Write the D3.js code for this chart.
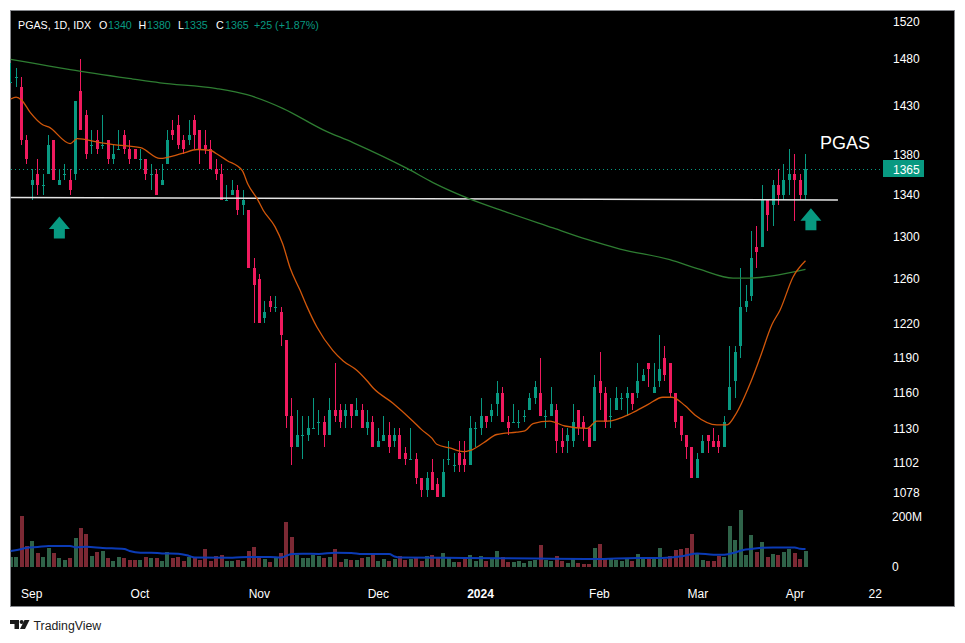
<!DOCTYPE html>
<html>
<head>
<meta charset="utf-8">
<title>PGAS daily</title>
<script src="https://cdn.jsdelivr.net/npm/d3@7/dist/d3.min.js"></script>
<style>
html,body{margin:0;padding:0;background:#fff;}
svg{display:block;font-family:"Liberation Sans",Arial,sans-serif;}
</style>
</head>
<body>
<svg id="chart" width="965" height="643"></svg>
<script>
// Daily session prices in IDR
const opens = [1455,1460,1450,1395,1350,1360,1350,1360,1395,1350,
1360,1355,1360,1445,1420,1390,1395,1390,1395,1375,
1385,1400,1385,1385,1375,1375,1360,1360,1350,1370,
1405,1410,1395,1395,1415,1405,1390,1385,1365,1360,
1335,1340,1345,1330,1325,1270,1260,1225,1240,1235,
1230,1205,1140,1115,1125,1125,1130,1135,1135,1125,
1145,1145,1140,1150,1140,1145,1130,1135,1115,1120,
1125,1120,1125,1110,1105,1105,1090,1080,1095,1085,
1075,1105,1100,1110,1105,1100,1130,1130,1140,1140,
1150,1160,1135,1135,1135,1140,1145,1155,1160,1140,
1140,1145,1120,1120,1120,1145,1135,1130,1120,1170,
1160,1140,1145,1155,1155,1160,1160,1170,1185,1160,
1170,1190,1185,1160,1140,1125,1115,1090,1110,1125,
1120,1120,1115,1145,1170,1200,1235,1245,1290,1290,
1335,1330,1350,1340,1355,1360,1355,1340];
const closes = [1455,1460,1395,1375,1355,1350,1350,1390,1355,1355,
1360,1345,1435,1405,1380,1390,1385,1390,1375,1380,
1385,1385,1375,1375,1375,1360,1360,1340,1355,1395,
1400,1390,1385,1400,1400,1385,1385,1365,1360,1335,
1335,1345,1325,1335,1270,1255,1220,1230,1235,1235,
1210,1140,1115,1125,1125,1130,1130,1135,1125,1145,
1140,1135,1145,1140,1145,1130,1135,1115,1120,1125,
1115,1125,1105,1105,1105,1090,1080,1090,1080,1075,
1095,1105,1100,1100,1100,1130,1130,1140,1135,1145,
1160,1135,1130,1135,1135,1140,1155,1165,1140,1140,
1150,1120,1115,1125,1135,1130,1130,1115,1165,1160,
1135,1140,1155,1155,1160,1150,1170,1175,1180,1165,
1180,1175,1160,1135,1125,1115,1090,1105,1120,1120,
1115,1115,1135,1165,1195,1235,1240,1280,1285,1335,
1320,1350,1340,1355,1360,1355,1340,1365];
const highs = [1475,1470,1460,1400,1365,1375,1360,1400,1395,1365,
1370,1365,1435,1480,1425,1405,1405,1420,1395,1390,
1405,1405,1395,1385,1385,1375,1370,1365,1370,1405,
1415,1420,1400,1415,1420,1405,1405,1395,1375,1370,
1350,1355,1350,1345,1325,1280,1265,1240,1245,1245,
1235,1205,1155,1145,1140,1140,1155,1145,1140,1155,
1185,1150,1150,1150,1155,1150,1145,1140,1130,1140,
1135,1130,1130,1115,1130,1110,1090,1095,1105,1090,
1105,1120,1110,1120,1120,1140,1135,1155,1140,1150,
1170,1165,1140,1150,1145,1145,1160,1170,1190,1145,
1165,1150,1130,1130,1150,1145,1140,1130,1175,1195,
1165,1155,1165,1160,1165,1160,1185,1180,1185,1185,
1210,1200,1185,1160,1140,1125,1115,1110,1125,1125,
1130,1125,1140,1200,1200,1270,1255,1305,1310,1350,
1335,1355,1365,1370,1385,1380,1360,1380];
const lows = [1455,1450,1390,1370,1335,1340,1340,1360,1355,1350,
1355,1340,1355,1405,1375,1380,1380,1385,1370,1370,
1385,1380,1370,1375,1365,1355,1345,1340,1350,1370,
1395,1385,1380,1390,1385,1370,1380,1365,1355,1335,
1335,1340,1320,1320,1270,1220,1220,1220,1230,1230,
1200,1130,1100,1115,1105,1120,1130,1125,1115,1125,
1135,1130,1130,1130,1140,1130,1125,1115,1115,1120,
1110,1115,1105,1100,1105,1085,1075,1075,1080,1075,
1075,1100,1095,1095,1095,1100,1115,1125,1130,1135,
1140,1135,1125,1135,1130,1135,1145,1150,1140,1130,
1140,1110,1110,1110,1115,1125,1120,1115,1120,1145,
1130,1130,1145,1145,1140,1145,1155,1170,1165,1160,
1165,1170,1155,1130,1120,1105,1090,1090,1110,1110,
1115,1110,1115,1145,1155,1190,1230,1240,1270,1290,
1305,1310,1330,1335,1340,1315,1335,1335];

// Traded volume per session, millions of shares
const volumes = [40,40,203,83,103,56,40,75,56,35,
27,35,115,155,131,43,59,63,35,23,
39,35,27,27,27,39,35,35,23,59,
35,39,23,39,35,27,71,23,43,47,
23,23,27,23,63,79,35,31,19,35,
55,179,119,47,35,35,47,43,35,39,
71,19,31,27,27,35,39,47,23,31,
23,31,43,27,31,39,23,43,47,35,
55,39,19,19,35,47,23,43,23,31,
63,39,19,19,23,15,23,27,87,27,
23,43,23,15,31,15,11,11,75,91,
31,31,27,23,31,23,51,31,31,35,
75,31,43,67,71,75,131,55,27,23,
23,43,39,163,107,227,47,127,59,99,
39,51,47,59,71,55,31,63];

// Moving averages, sampled at session indices
const emaSessions = [0,1,2,3.6,6,7,11,12.3,16.5,19,24,27.6,31.7,34.5,37,38,40,42.8,43.9,45.7,46.7,48.9,50.3,51.7,53.5,54.8,56.6,59.6,61.5,64,65.9,67,70.7,74.4,76,77.9,78.8,81.2,83.7,85,87.4,89.9,93.6,95.1,96.6,99.7,102.5,106.6,108.4,110.3,115,117.9,120.6,122.3,124.7,126.6,130.6,132.5,134,136.8,138.6,140.8,142.3,144.7,147];
const emaPrices = [1437,1439,1436,1423,1410,1408,1391,1396,1392,1390,1387,1376,1381,1385,1384,1381,1374,1364,1350,1335,1325,1309,1293,1270,1250,1235,1217,1196,1187,1179,1170,1164,1151,1136,1129,1122,1117,1114,1111,1112,1118,1125,1127,1128,1134,1136,1132,1130,1136,1136,1143,1150,1156,1156,1149,1141,1133,1133,1141,1168,1190,1219,1232,1262,1277];
const smaSessions = [0,4.1,11,22.6,27.6,38.1,43.7,50.4,57.8,63.3,73.3,78.1,84.4,91.8,100.3,106.6,112.7,121.9,127.5,133.6,136.7,140.9,147];
const smaPrices = [1479,1475,1468,1458,1454,1448,1441.5,1427,1405,1392,1366,1352,1337,1323,1308,1297,1288,1278,1269,1261,1261,1263,1269];
const volMaSessions = [0,2,3,5,7,11,12,14,17,21,22,24,26,28,31,33,34,41,44,48,50,52,54,57,60,63,65,70,71,72,84,97,107,108,116,119,122,124.4,127,130,132,134,135.5,137,139,141,145,146,147];
const volMaValues = [63,71,76,79,83,83,77,80,75,71,63,56,56,53,52,43,37,36,39,39,37,51,52,51,56,55,51,51,41,37,35,33,31,31,35,35,37,43,53,48,48,57,67,71,76,77,77,72,71];

// Axis labels
const priceTicks = [1520,1480,1430,1380,1340,1300,1260,1220,1190,1160,1130,1102,1078];
const volumeTicks = [200,0];
const volumeTickLabels = ["200M","0"];
const timeTicks = [3.8,23.8,45.9,67.9,86.8,108.8,127,145,159.8];
const timeTickLabels = ["Sep","Oct","Nov","Dec","2024","Feb","Mar","Apr","22"];

// Annotations
const supportSessions = [0,153];
const supportPrices = [1337.3,1335];
const arrowSessions = [9,148];
const arrowPrices = [1319,1327];
const lastClose = closes[closes.length-1];

const UP="#089981", DOWN="#f01a5e", VOL_UP="#2f6349", VOL_DOWN="#7c2934";

const svg=d3.select("#chart");
const x=d3.scaleLinear().domain([0,147]).range([10.7,805.5]);
const y=d3.scaleLog().domain([1078,1520]).range([493,22]);
const yVol=d3.scaleLinear().domain([0,200]).range([566.7,516.7]);

// Pane background
svg.append("rect").attr("x",10.5).attr("y",10.5).attr("width",944).attr("height",596)
  .attr("fill","#000").attr("stroke","#85878c").attr("stroke-width",1);
svg.append("clipPath").attr("id","pane").append("rect")
  .attr("x",10).attr("y",11).attr("width",872).attr("height",595);
const plot=svg.append("g").attr("clip-path","url(#pane)");

// Volume histogram
plot.append("g").selectAll("rect").data(volumes).join("rect")
  .attr("x",(d,i)=>Math.max(11,Math.round(x(i))-2))
  .attr("width",(d,i)=>Math.round(x(i))+2-Math.max(11,Math.round(x(i))-2))
  .attr("y",d=>Math.round(yVol(d)))
  .attr("height",d=>Math.round(yVol(0))-Math.round(yVol(d)))
  .attr("fill",(d,i)=>closes[i]>=opens[i]?VOL_UP:VOL_DOWN);

const curve=d3.curveMonotoneX;
const sampled=(xs,ys)=>xs.map((s,i)=>[s,ys[i]]);
plot.append("path").datum(sampled(volMaSessions,volMaValues))
  .attr("fill","none").attr("stroke","#0b3bb5").attr("stroke-width",2)
  .attr("d",d3.line().curve(curve).x(d=>x(d[0])).y(d=>yVol(d[1])));

// Last price marker line
plot.append("line")
  .attr("x1",11).attr("x2",882)
  .attr("y1",Math.round(y(lastClose))+.5).attr("y2",Math.round(y(lastClose))+.5)
  .attr("stroke",UP).attr("stroke-width",1).attr("stroke-dasharray","1 3");

// Candles
const candles=plot.append("g").selectAll("g").data(opens).join("g");
candles.append("rect")
  .attr("x",(d,i)=>Math.floor(x(i)))
  .attr("width",1)
  .attr("y",(d,i)=>Math.round(y(highs[i])))
  .attr("height",(d,i)=>Math.max(1,Math.round(y(lows[i]))-Math.round(y(highs[i]))))
  .attr("fill",(d,i)=>closes[i]>=d?UP:DOWN);
candles.append("rect")
  .attr("x",(d,i)=>Math.floor(x(i))-1)
  .attr("width",3)
  .attr("y",(d,i)=>Math.round(y(Math.max(d,closes[i]))))
  .attr("height",(d,i)=>Math.max(1,Math.round(y(Math.min(d,closes[i])))-Math.round(y(Math.max(d,closes[i])))))
  .attr("fill",(d,i)=>closes[i]>=d?UP:DOWN);

// Support line
plot.append("path").datum(sampled(supportSessions,supportPrices))
  .attr("fill","none").attr("stroke","#e4e4e4").attr("stroke-width",1.5)
  .attr("d",d3.line().x(d=>x(d[0])).y(d=>y(d[1])));

// Moving averages over price
plot.append("path").datum(sampled(smaSessions,smaPrices))
  .attr("fill","none").attr("stroke","#2e7d32").attr("stroke-width",1.3)
  .attr("d",d3.line().curve(curve).x(d=>x(d[0])).y(d=>y(d[1])));
plot.append("path").datum(sampled(emaSessions,emaPrices))
  .attr("fill","none").attr("stroke","#d2570a").attr("stroke-width",1.3)
  .attr("d",d3.line().curve(curve).x(d=>x(d[0])).y(d=>y(d[1])));

// Up arrows anchored by their tip
const arrow="M0 0 L10.5 12.5 L5.5 12.5 L5.5 22 L-5.5 22 L-5.5 12.5 L-10.5 12.5 Z";
plot.append("g").selectAll("path").data(arrowSessions).join("path")
  .attr("d",arrow).attr("fill",UP)
  .attr("transform",(d,i)=>`translate(${x(d)},${y(arrowPrices[i])})`);

// Ticker annotation
svg.append("text").attr("x",x(149.7)).attr("y",y(1385)).attr("fill","#fff")
  .attr("font-size",18).text("PGAS");

// Axes
const styleAxis=g=>{
  g.select(".domain").remove();
  g.selectAll("text").attr("fill","#fff").attr("font-size",12)
    .attr("font-family",'"Liberation Sans",Arial,sans-serif');
};
svg.append("g").attr("transform","translate(893,0)")
  .call(d3.axisRight(y).tickValues(priceTicks).tickSize(0).tickPadding(0).tickFormat(d3.format("d")))
  .call(styleAxis);
svg.append("g").attr("transform","translate(892,0)")
  .call(d3.axisRight(yVol).tickValues(volumeTicks).tickSize(0).tickPadding(0).tickFormat((d,i)=>volumeTickLabels[i]))
  .call(styleAxis);
svg.append("g").attr("transform","translate(0,589)")
  .call(d3.axisBottom(x).tickValues(timeTicks).tickSize(0).tickPadding(0).tickFormat((d,i)=>timeTickLabels[i]))
  .call(styleAxis)
  .call(g=>g.selectAll("text").attr("font-weight",(d,i)=>timeTickLabels[i]==="2024"?"bold":null));

// Last price tag
const tagY=y(lastClose);
svg.append("rect").attr("x",883).attr("y",Math.round(tagY)-9).attr("width",41).attr("height",17).attr("fill",UP);
svg.append("text").attr("x",893).attr("y",tagY).attr("dy",".36em").attr("fill","#fff").attr("font-size",12).text(lastClose);

// Header legend
const legend=[
 ["PGAS, 1D, IDX",18,"#fff"],["O",99,"#fff"],["1340",108,UP],["H",138.5,"#fff"],["1380",147,UP],
 ["L",178,"#fff"],["1335",184,UP],["C",216,"#fff"],["1365",225,UP],["+25 (+1.87%)",254,UP]];
svg.append("g").selectAll("text").data(legend).join("text")
  .attr("x",d=>d[1]).attr("y",29).attr("font-size",10.7).attr("fill",d=>d[2]).text(d=>d[0]);

// Brand mark and wordmark
const brand=svg.append("g").attr("fill","#1a1a1a");
brand.append("path").attr("d","M10 620 H19 V629 H14.5 V624 H10 Z");
brand.append("circle").attr("cx",21.6).attr("cy",622).attr("r",2);
brand.append("path").attr("d","M29.5 620 L25 629 H20 L24.5 620 Z");
svg.append("text").attr("x",33.5).attr("y",630).attr("font-size",12.3).attr("fill","#222").text("TradingView");
</script>
</body>
</html>
